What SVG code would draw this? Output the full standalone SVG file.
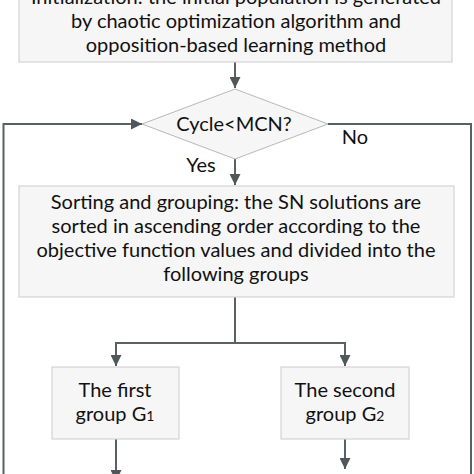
<svg xmlns="http://www.w3.org/2000/svg" width="474" height="474" viewBox="0 0 474 474">
<style>
.box{fill:#f6f6f6;stroke:#d4d4d4;stroke-width:1.2}
.dia{fill:#f6f6f6;stroke:#b8b8b8;stroke-width:1}
.t{font-family:Lato,"Open Sans",sans-serif;font-size:20px;fill:#111111;text-anchor:middle}
.ln{fill:none;stroke:#5a6163;stroke-width:2}
</style>
<defs>
<marker id="ah" viewBox="0 0 10 10" refX="10" refY="5" markerWidth="5.5" markerHeight="5.5" orient="auto" markerUnits="strokeWidth">
<path d="M0,0 L10,5 L0,10 Z" fill="#4f5759"/>
</marker>
</defs>
<rect width="474" height="474" fill="#ffffff"/>
<g id="connectors">
<path class="ln" d="M235,62 V88" marker-end="url(#ah)"/>
<path class="ln" d="M235,159 V185" marker-end="url(#ah)"/>
<path class="ln" d="M3.5,480 V124 H142" marker-end="url(#ah)"/>
<path class="ln" d="M328,124 H471 V480"/>
<path class="ln" d="M235,297 V343"/>
<path class="ln" d="M116,343 H345"/>
<path class="ln" d="M116,342 V366" marker-end="url(#ah)"/>
<path class="ln" d="M345,342 V366" marker-end="url(#ah)"/>
<path class="ln" d="M116,439 V481" marker-end="url(#ah)"/>
<path class="ln" d="M345,439 V469" marker-end="url(#ah)"/>
</g>
<g id="init">
<rect class="box" x="19" y="-30" width="433" height="92"/>
<text class="t" x="236" y="4">Initialization: the initial population is generated</text>
<text class="t" x="236" y="28">by chaotic optimization algorithm and</text>
<text class="t" x="236" y="52">opposition-based learning method</text>
</g>
<g id="decision">
<polygon class="dia" points="235,89 328,124 235,159 142,124"/>
<text class="t" x="234" y="131">Cycle&lt;MCN?</text>
</g>
<g id="labels">
<text class="t" x="201" y="172">Yes</text>
<text class="t" x="355" y="144">No</text>
</g>
<g id="sorting">
<rect class="box" x="19" y="186" width="435" height="111"/>
<text class="t" x="236" y="209">Sorting and grouping: the SN solutions are</text>
<text class="t" x="236" y="233">sorted in ascending order according to the</text>
<text class="t" x="236" y="257">objective function values and divided into the</text>
<text class="t" x="236" y="281">following groups</text>
</g>
<g id="group1">
<rect class="box" x="52" y="367" width="127" height="72"/>
<text class="t" x="115" y="397">The first</text>
<text class="t" x="115" y="421">group G<tspan font-size="14">1</tspan></text>
</g>
<g id="group2">
<rect class="box" x="281" y="367" width="128" height="72"/>
<text class="t" x="345" y="397">The second</text>
<text class="t" x="345" y="421">group G<tspan font-size="14">2</tspan></text>
</g>
</svg>
